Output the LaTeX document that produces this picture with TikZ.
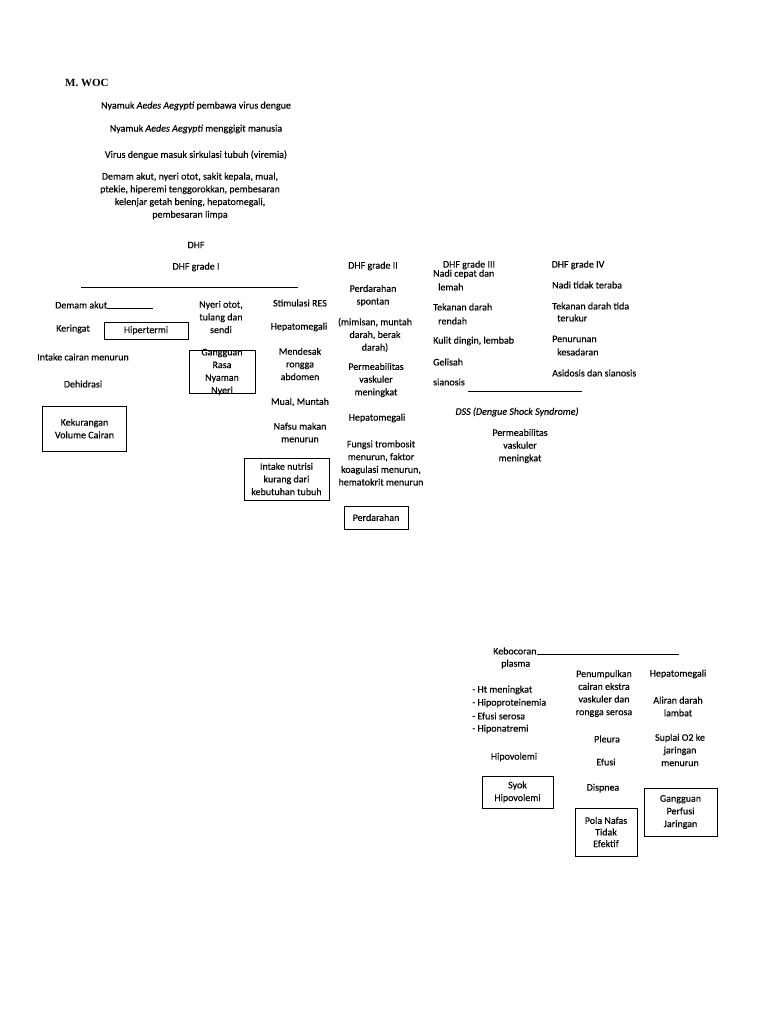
\documentclass[tikz,border=0pt]{standalone}
\usepackage{fontspec}
\setmainfont{Carlito}[FakeBold=0.25]
\newfontfamily\bodyfont{Carlito}[FakeBold=0.25]
\newfontfamily\titlefont{Liberation Serif}
\begin{document}
\begin{tikzpicture}[x=1pt,y=-1pt,
  t/.style={inner sep=0pt, align=center, font=\fontsize{10}{12.7}\selectfont},
  tl/.style={t, anchor=west, align=left},
  bx/.style={draw, line width=0.9pt},
  ln/.style={line width=0.8pt}]
\useasboundingbox[fill=white] (0,0) rectangle (768,1024);

\node[font=\titlefont\bfseries\fontsize{11}{13}\selectfont, anchor=west, inner sep=0pt] (title) at (65,83) {M. WOC};

\node[t] (n1) at (196,106) {Nyamuk \textit{Aedes Aegypti} pembawa virus dengue};
\node[t] (n2) at (196,129) {Nyamuk \textit{Aedes Aegypti} menggigit manusia};
\node[t] (n3) at (196,155) {Virus dengue masuk sirkulasi tubuh (viremia)};
\node[t] (n4) at (190,196) {Demam akut, nyeri otot, sakit kepala, mual,\\ptekie, hiperemi tenggorokkan, pembesaran\\kelenjar getah bening, hepatomegali,\\pembesaran limpa};

\node[t] (dhf) at (196,245) {DHF};
\node[t] (g1) at (196,267) {DHF grade I};
\coordinate (l1a) at (81,287);
\coordinate (l1b) at (298,287);
\draw[ln] (l1a) -- (l1b);

% DHF grade I column
\node[tl] (demam) at (55,305) {Demam akut};
\draw[ln] (demam.base east) -- ++(46,0);
\node[t] (keringat) at (73,329) {Keringat};
\node[t,bx,minimum width=84pt,minimum height=17pt] (hiper) at (146,330.5) {Hipertermi};
\node[t] (intake) at (83,357) {Intake cairan menurun};
\node[t] (dehid) at (83,384) {Dehidrasi};
\node[t,bx,minimum width=84pt,minimum height=45pt] (kvc) at (84.5,428.5) {Kekurangan\\Volume Cairan};

\node[t] (nyeri) at (221,317) {Nyeri otot,\\tulang dan\\sendi};
\node[bx,minimum width=66pt,minimum height=43pt,inner sep=0pt] (grnbox) at (222,371.5) {};
\node[t] (grn) at (222,372) {Gangguan\\Rasa\\Nyaman\\Nyeri};

\node[t] (res) at (300,303) {Stimulasi RES};
\node[t] (hep1) at (299,327) {Hepatomegali};
\node[t] (mend) at (300,364) {Mendesak\\rongga\\abdomen};
\node[t] (mual) at (300,402) {Mual, Muntah};
\node[t] (nafsu) at (300,432.5) {Nafsu makan\\menurun};
\node[t,bx,minimum width=85pt,minimum height=42pt] (nutri) at (286.5,479) {Intake nutrisi\\kurang dari\\kebutuhan tubuh};

% DHF grade II
\node[t] (g2) at (373,266) {DHF grade II};
\node[t] (perd) at (373,295.5) {Perdarahan\\spontan};
\node[t] (mimi) at (375,335) {(mimisan, muntah\\darah, berak\\darah)};
\node[t] (perm1) at (376,380) {Permeabilitas\\vaskuler\\meningkat};
\node[t] (hep2) at (377,418) {Hepatomegali};
\node[t] (fungsi) at (381,463) {Fungsi trombosit\\menurun, faktor\\koagulasi menurun,\\hematokrit menurun};
\node[t,bx,minimum width=64pt,minimum height=23pt] (perdbox) at (376,517.5) {Perdarahan};

% DHF grade III
\node[t] (g3) at (469,265) {DHF grade III};
\node[tl] (nadi1) at (433,274) {Nadi cepat dan};
\node[tl] (nadi2) at (438,287) {lemah};
\node[tl] (tek1) at (433,307) {Tekanan darah};
\node[tl] (tek2) at (438,321) {rendah};
\node[tl] (kulit) at (433,341) {Kulit dingin, lembab};
\node[tl] (gelisah) at (433,362) {Gelisah};
\node[tl] (sian) at (433,382) {sianosis};
\coordinate (l2a) at (468,391);
\coordinate (l2b) at (582,391);
\draw[ln] (l2a) -- (l2b);
\node[t,font=\fontsize{10}{12.7}\selectfont\itshape] (dss) at (517,412) {DSS (Dengue Shock Syndrome)};
\node[t] (perm2) at (520,446) {Permeabilitas\\vaskuler\\meningkat};

% DHF grade IV
\node[t] (g4) at (578,265) {DHF grade IV};
\node[tl] (nt) at (552,285) {Nadi tidak teraba};
\node[tl] (td1) at (552,306) {Tekanan darah tida};
\node[tl] (td2) at (557,318) {terukur};
\node[tl] (pen1) at (552,339) {Penurunan};
\node[tl] (pen2) at (557,352) {kesadaran};
\node[tl] (asid) at (552,373) {Asidosis dan sianosis};

% bottom part
\node[tl] (keb) at (493,651) {Kebocoran};
\draw[ln] (keb.base east) -- ++(142,0);
\node[tl] (plasma) at (501,664) {plasma};
\node[tl] (ht) at (472,690) {- Ht meningkat};
\node[tl] (hipo) at (472,703) {- Hipoproteinemia};
\node[tl] (efs) at (472,716) {- Efusi serosa};
\node[tl] (hna) at (472,729) {- Hiponatremi};
\node[t] (hipov) at (514,757) {Hipovolemi};
\node[t,bx,minimum width=71pt,minimum height=32pt] (syok) at (517.5,792) {Syok\\Hipovolemi};

\node[t] (penum) at (604,693.5) {Penumpulkan\\cairan ekstra\\vaskuler dan\\rongga serosa};
\node[t] (pleura) at (607,739) {Pleura};
\node[t] (efusi) at (606,762) {Efusi};
\node[t] (disp) at (603,788) {Dispnea};
\node[t,bx,minimum width=62pt,minimum height=48pt,font=\fontsize{10}{11.6}\selectfont] (pola) at (606,832) {Pola Nafas\\Tidak\\Efektif};

\node[t] (hep3) at (678,674) {Hepatomegali};
\node[t] (aliran) at (678,706.5) {Aliran darah\\lambat};
\node[t] (suplai) at (680,750) {Suplai O2 ke\\jaringan\\menurun};
\node[t,bx,minimum width=73pt,minimum height=48pt] (gpj) at (680.5,812) {Gangguan\\Perfusi\\Jaringan};
\end{tikzpicture}
\end{document}
